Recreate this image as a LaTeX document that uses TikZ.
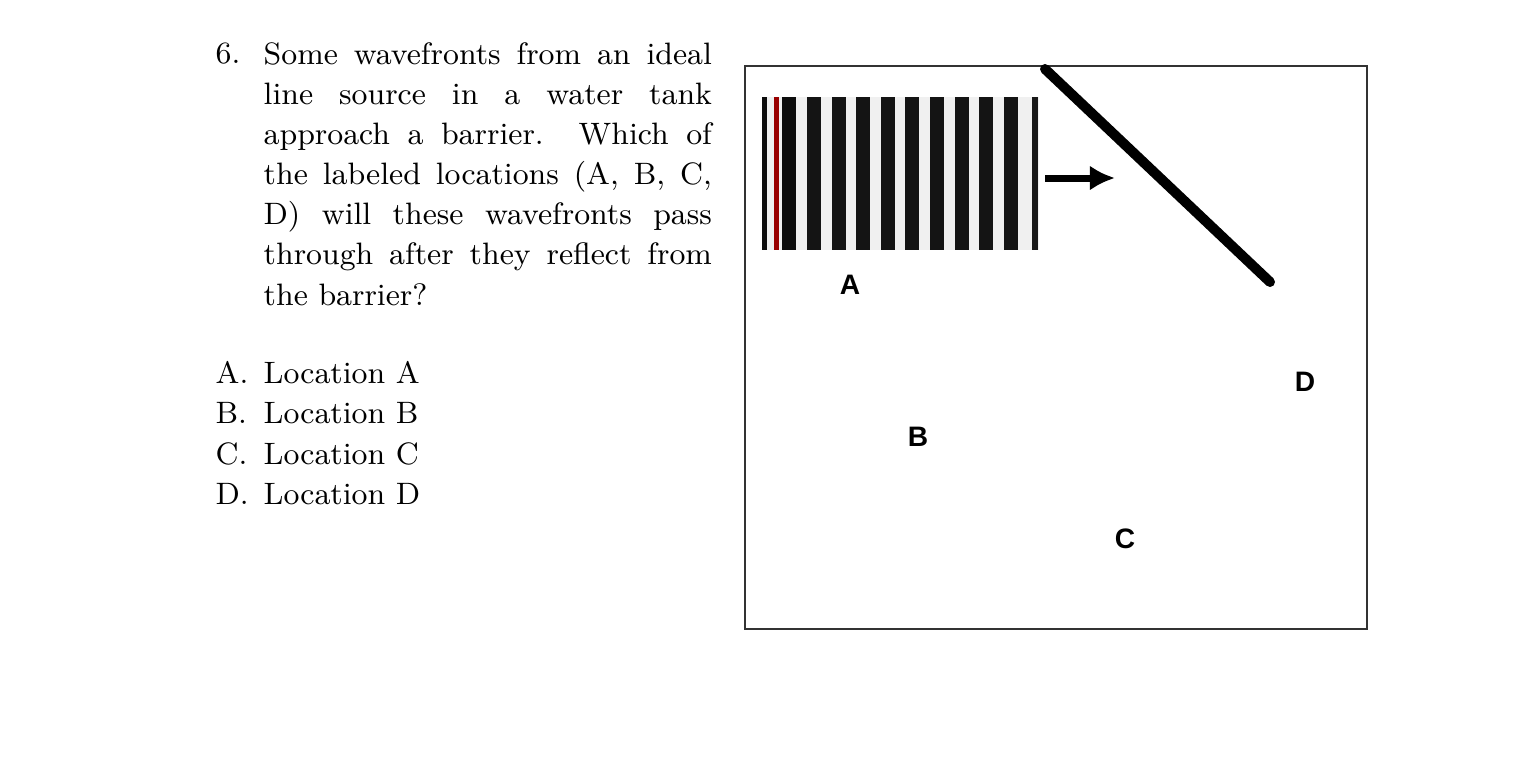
\documentclass[tikz,border=0pt]{standalone}
\usepackage{fontspec}
\usetikzlibrary{arrows.meta}
\newfontfamily\lab{Liberation Sans}
\newcommand{\ansitem}[2]{\makebox[0.48cm][l]{#1}#2}
\begin{document}
\begin{tikzpicture}[x=0.01cm,y=-0.01cm,
  lbl/.style={font=\lab\bfseries\fontsize{8}{9}\selectfont,inner sep=0},
  txt/.style={anchor=north west,inner sep=0,font=\fontsize{8.8}{11.4}\selectfont}]
\useasboundingbox (0,0) rectangle (1536,766);
\node[txt] (num) at (215,42) {6.};
\node[txt,text width=4.48cm,align=justify] (q) at (263,42) {Some wavefronts from an ideal\linebreak line source in a water tank\linebreak approach a barrier. Which of\linebreak the labeled locations (A, B, C,\linebreak D) will these wavefronts pass\linebreak through after they reflect from\linebreak the barrier?};
\node[txt,align=left] (ans) at (215,361) {\ansitem{A.}{Location A}\\\ansitem{B.}{Location B}\\\ansitem{C.}{Location C}\\\ansitem{D.}{Location D}};
\draw[line width=0.015cm,black!80] (745,66) rectangle (1367,629);
\fill[black!6] (762,97) rectangle (1039,250);
\fill[black!95] (762,97) rectangle (767,250);
\fill[red!60!black] (774,97) rectangle (779,250);
\fill[black!95] (782,97) rectangle (796,250);
\foreach \i in {0,...,8} \fill[black!92] ({807+24.6*\i},97) rectangle ({821+24.6*\i},250);
\fill[black!90] (1032,97) rectangle (1038,250);
\coordinate (a1) at (1045,178);
\coordinate (a2) at (1115,178);
\draw[line width=0.07cm,-{Latex[length=0.25cm,width=0.25cm]}] (a1) -- (a2);
\coordinate (b1) at (1045,69);
\coordinate (b2) at (1270,282);
\draw[line width=0.1cm,line cap=round] (b1) -- (b2);
\node[lbl] (A) at (850,285) {A};
\node[lbl] (B) at (918,437) {B};
\node[lbl] (C) at (1125,539) {C};
\node[lbl] (D) at (1305,382) {D};
\end{tikzpicture}
\end{document}
